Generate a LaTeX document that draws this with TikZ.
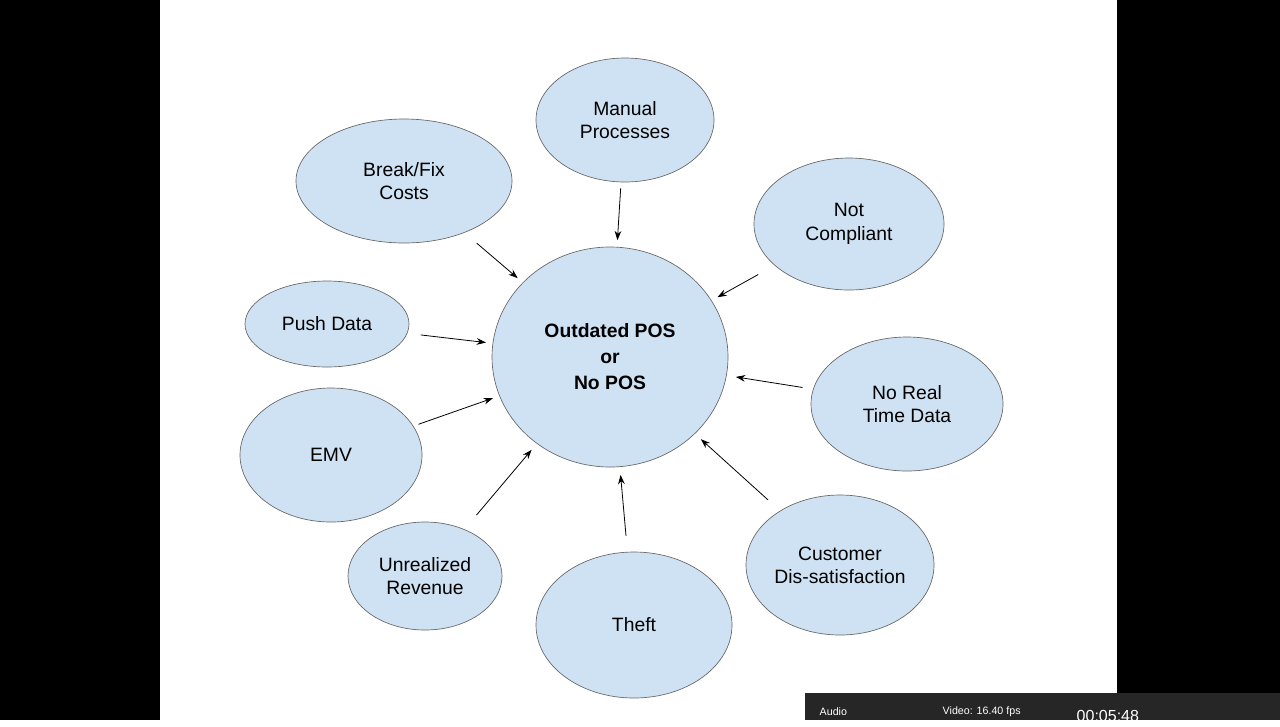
\documentclass[tikz,border=0pt]{standalone}
\usepackage{fontspec}
\setmainfont{Liberation Sans}
\usetikzlibrary{shapes.geometric,arrows.meta}
\definecolor{bub}{HTML}{CFE2F3}
\begin{document}
\begin{tikzpicture}[x=0.75pt,y=-0.75pt,
  bub/.style={ellipse,draw=black!60,line width=0.5pt,fill=bub,inner sep=0pt,align=center,font=\fontsize{14.5}{17.5}\selectfont},
  arr/.style={-{Stealth[length=7pt,width=5pt]},line width=0.6pt}]
\fill[black] (0,0) rectangle (1280,720);
\fill[white] (160,0) rectangle (1117,720);
\node[bub,minimum width=177pt,minimum height=165pt,font=\bfseries\fontsize{14.5}{19.5}\selectfont] (c) at (610,357) {Outdated POS\\or\\No POS};
\node[bub,minimum width=133.5pt,minimum height=93pt] (m) at (625,120) {Manual\\Processes};
\node[bub,minimum width=162pt,minimum height=93pt] (b) at (404,181) {Break/Fix\\Costs};
\node[bub,minimum width=142.5pt,minimum height=99pt] (n) at (849,224) {Not\\Compliant};
\node[bub,minimum width=123pt,minimum height=64.5pt] (p) at (327,324) {Push Data};
\node[bub,minimum width=144pt,minimum height=100.5pt] (r) at (907,404) {No Real\\Time Data};
\node[bub,minimum width=136.5pt,minimum height=100.5pt] (e) at (331,455) {EMV};
\node[bub,minimum width=141pt,minimum height=105pt] (cu) at (840,565) {Customer\\Dis-satisfaction};
\node[bub,minimum width=115.5pt,minimum height=81pt] (u) at (425,576) {Unrealized\\Revenue};
\node[bub,minimum width=147pt,minimum height=109.5pt] (t) at (634,625) {Theft};
\draw[arr,shorten <=4.5pt,shorten >=5pt] (m) -- (c);
\draw[arr,shorten <=12pt,shorten >=5pt] (b) -- (c);
\draw[arr,shorten <=14pt,shorten >=5pt] (n) -- (c);
\draw[arr,shorten <=10pt,shorten >=5pt] (p) -- (c);
\draw[arr,shorten <=8pt,shorten >=7pt] (r) -- (c);
\draw[arr,shorten <=4pt,shorten >=5pt] (e) -- (c);
\draw[arr,shorten <=12pt,shorten >=6pt] (cu) -- (c);
\draw[arr,shorten <=12pt,shorten >=6pt] (t) -- (c);
\draw[arr,shorten <=14pt,shorten >=6pt] (u) -- (c);
\fill[black!85] (805,693) rectangle (1280,720);
\node[font=\fontsize{8}{9}\selectfont,text=white,anchor=west] (au) at (815,712) {Audio};
\node[font=\fontsize{8}{9}\selectfont,text=white,anchor=west] (vi) at (938,712) {Video: 16.40 fps};
\node[font=\fontsize{12}{13}\selectfont,text=white,anchor=west] (tm) at (1072,716) {00:05:48};
\end{tikzpicture}
\end{document}
